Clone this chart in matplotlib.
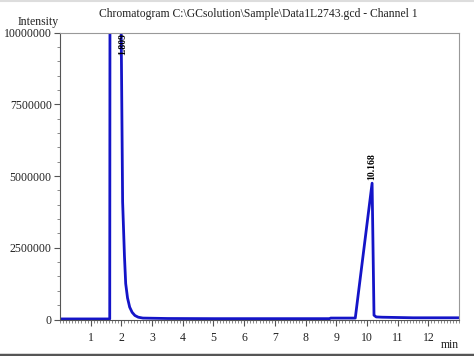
import matplotlib
matplotlib.use('Agg')
import matplotlib.pyplot as plt
from matplotlib.ticker import MultipleLocator
from matplotlib.lines import Line2D

plt.rcParams['font.family'] = ['Liberation Serif', 'DejaVu Serif']

# retention time (min) and intensity
time = [0.0, 0.8, 1.62, 1.63, 1.809, 1.97, 2.04, 2.10, 2.14, 2.20, 2.27, 2.35, 2.44, 2.55,
        2.7, 3.5, 5.0, 6.5, 8.0, 8.78, 8.82, 9.3, 9.62, 10.168, 10.23, 10.3, 10.5, 11.5, 13.0]
intensity = [20000, 20000, 20000, 14000000, 20000000, 13000000, 4100000, 2200000, 1250000,
             750000, 430000, 250000, 140000, 80000, 50000, 35000, 30000, 30000, 30000,
             30000, 50000, 50000, 50000, 4750000, 150000, 90000, 80000, 60000, 60000]

peak_times = [1.809, 10.168]
peak_labels = ['1.809', '10.168']
peak_label_y = [10000000, 4850000]

fig = plt.figure(figsize=(4.74, 3.56), dpi=100)
ax = fig.add_axes([0.1266, 0.1025, 0.8418, 0.8062])

ax.plot(time, intensity, color='#1414c8', lw=2.0, solid_joinstyle='round')

ax.set_xlim(0, 13)
ax.set_ylim(0, 10000000)
ax.xaxis.set_major_locator(MultipleLocator(1))
ax.xaxis.set_minor_locator(MultipleLocator(0.1))
ax.yaxis.set_major_locator(MultipleLocator(2500000))
ax.yaxis.set_minor_locator(MultipleLocator(500000))
ax.set_xticks(range(1, 13))
ax.ticklabel_format(axis='y', style='plain')
ax.tick_params(axis='both', which='major', labelsize=8.5, length=4, width=0.8, color='#555555',
               pad=2, labelcolor='#222222')
ax.tick_params(axis='both', which='minor', length=2, width=0.6, color='#777777')
ax.tick_params(axis='x', pad=5)

for side in ['left', 'bottom']:
    ax.spines[side].set_color('#555555')
for side in ['top', 'right']:
    ax.spines[side].set_color('#999999')

# peak labels
ax.text(peak_times[0] + 0.22, peak_label_y[0], peak_labels[0], rotation=90, ha='center', va='top',
        fontsize=7, fontweight='bold', clip_on=True)
ax.text(peak_times[1], peak_label_y[1], peak_labels[1], rotation=90, ha='center', va='bottom',
        fontsize=7, fontweight='bold')

fig.text(0.546, 0.962, 'Chromatogram C:\\GCsolution\\Sample\\Data1L2743.gcd - Channel 1',
         ha='center', va='center', fontsize=8.4, color='#222222')
fig.text(0.08, 0.937, 'Intensity', ha='center', va='center', fontsize=8.5, color='#222222')
fig.text(0.95, 0.03, 'min', ha='center', va='center', fontsize=8.5, color='#222222')

fig.add_artist(Line2D([0, 1], [0.004, 0.004], color='#555555', lw=2.5, transform=fig.transFigure))
fig.add_artist(Line2D([0, 1], [0.997, 0.997], color='#dddddd', lw=1.5, transform=fig.transFigure))

fig.savefig('out.png', dpi=100)
